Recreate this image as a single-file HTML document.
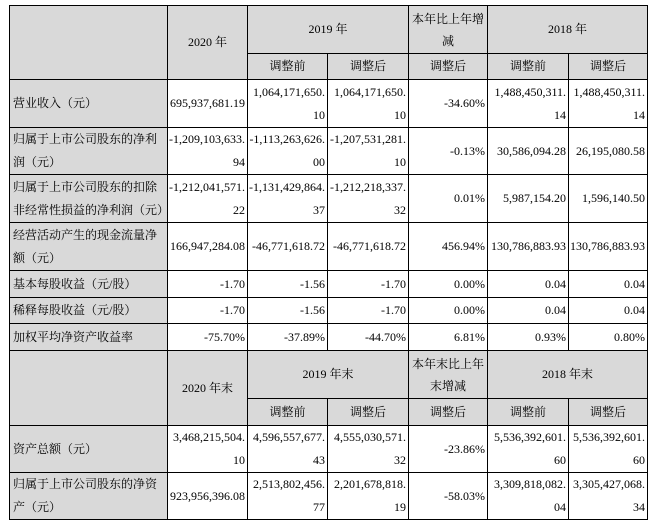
<!DOCTYPE html>
<html><head><meta charset="utf-8"><style>
body{margin:0;background:#fff;width:661px;height:530px;overflow:hidden;position:relative;font-family:"Liberation Serif","Noto Serif CJK SC",serif;font-size:12px;color:#000}
.c{position:absolute;box-sizing:border-box;border:1px solid #000;display:flex;align-items:center;justify-content:flex-end;text-align:right;padding:0 2px;line-height:23px;background:#fff}
.g{background:#d9d9d9}
.h{justify-content:center;text-align:center}
.l{justify-content:flex-start;text-align:left;padding-left:3px}
</style></head><body>
<!-- header 1 -->
<div class="c g" style="left:9px;top:5px;width:159px;height:75px"></div>
<div class="c g h" style="left:167px;top:5px;width:81px;height:75px">2020 年</div>
<div class="c g h" style="left:247px;top:5px;width:162px;height:49px">2019 年</div>
<div class="c g h" style="left:408px;top:5px;width:80px;height:49px;line-height:22px">本年比上年增<br>减</div>
<div class="c g h" style="left:487px;top:5px;width:161px;height:49px">2018 年</div>
<div class="c g h" style="left:247px;top:53px;width:81px;height:27px">调整前</div>
<div class="c g h" style="left:327px;top:53px;width:82px;height:27px">调整后</div>
<div class="c g h" style="left:408px;top:53px;width:80px;height:27px">调整后</div>
<div class="c g h" style="left:487px;top:53px;width:82px;height:27px">调整前</div>
<div class="c g h" style="left:568px;top:53px;width:80px;height:27px">调整后</div>
<!-- row1 -->
<div class="c g l" style="left:9px;top:79px;width:159px;height:49px">营业收入（元）</div>
<div class="c" style="left:167px;top:79px;width:81px;height:49px">695,937,681.19</div>
<div class="c" style="left:247px;top:79px;width:81px;height:49px">1,064,171,650.<br>10</div>
<div class="c" style="left:327px;top:79px;width:82px;height:49px">1,064,171,650.<br>10</div>
<div class="c" style="left:408px;top:79px;width:80px;height:49px">-34.60%</div>
<div class="c" style="left:487px;top:79px;width:82px;height:49px">1,488,450,311.<br>14</div>
<div class="c" style="left:568px;top:79px;width:80px;height:49px">1,488,450,311.<br>14</div>
<!-- row2 -->
<div class="c g l" style="left:9px;top:127px;width:159px;height:48px">归属于上市公司股东的净利<br>润（元）</div>
<div class="c" style="left:167px;top:127px;width:81px;height:48px">-1,209,103,633.<br>94</div>
<div class="c" style="left:247px;top:127px;width:81px;height:48px">-1,113,263,626.<br>00</div>
<div class="c" style="left:327px;top:127px;width:82px;height:48px">-1,207,531,281.<br>10</div>
<div class="c" style="left:408px;top:127px;width:80px;height:48px">-0.13%</div>
<div class="c" style="left:487px;top:127px;width:82px;height:48px">30,586,094.28</div>
<div class="c" style="left:568px;top:127px;width:80px;height:48px">26,195,080.58</div>
<!-- row3 -->
<div class="c g l" style="left:9px;top:174px;width:159px;height:49px">归属于上市公司股东的扣除<br>非经常性损益的净利润（元）</div>
<div class="c" style="left:167px;top:174px;width:81px;height:49px">-1,212,041,571.<br>22</div>
<div class="c" style="left:247px;top:174px;width:81px;height:49px">-1,131,429,864.<br>37</div>
<div class="c" style="left:327px;top:174px;width:82px;height:49px">-1,212,218,337.<br>32</div>
<div class="c" style="left:408px;top:174px;width:80px;height:49px">0.01%</div>
<div class="c" style="left:487px;top:174px;width:82px;height:49px">5,987,154.20</div>
<div class="c" style="left:568px;top:174px;width:80px;height:49px">1,596,140.50</div>
<!-- row4 -->
<div class="c g l" style="left:9px;top:222px;width:159px;height:49px">经营活动产生的现金流量净<br>额（元）</div>
<div class="c" style="left:167px;top:222px;width:81px;height:49px">166,947,284.08</div>
<div class="c" style="left:247px;top:222px;width:81px;height:49px">-46,771,618.72</div>
<div class="c" style="left:327px;top:222px;width:82px;height:49px">-46,771,618.72</div>
<div class="c" style="left:408px;top:222px;width:80px;height:49px">456.94%</div>
<div class="c" style="left:487px;top:222px;width:82px;height:49px">130,786,883.93</div>
<div class="c" style="left:568px;top:222px;width:80px;height:49px">130,786,883.93</div>
<!-- row5 -->
<div class="c g l" style="left:9px;top:270px;width:159px;height:28px">基本每股收益（元/股）</div>
<div class="c" style="left:167px;top:270px;width:81px;height:28px">-1.70</div>
<div class="c" style="left:247px;top:270px;width:81px;height:28px">-1.56</div>
<div class="c" style="left:327px;top:270px;width:82px;height:28px">-1.70</div>
<div class="c" style="left:408px;top:270px;width:80px;height:28px">0.00%</div>
<div class="c" style="left:487px;top:270px;width:82px;height:28px">0.04</div>
<div class="c" style="left:568px;top:270px;width:80px;height:28px">0.04</div>
<!-- row6 -->
<div class="c g l" style="left:9px;top:297px;width:159px;height:27px">稀释每股收益（元/股）</div>
<div class="c" style="left:167px;top:297px;width:81px;height:27px">-1.70</div>
<div class="c" style="left:247px;top:297px;width:81px;height:27px">-1.56</div>
<div class="c" style="left:327px;top:297px;width:82px;height:27px">-1.70</div>
<div class="c" style="left:408px;top:297px;width:80px;height:27px">0.00%</div>
<div class="c" style="left:487px;top:297px;width:82px;height:27px">0.04</div>
<div class="c" style="left:568px;top:297px;width:80px;height:27px">0.04</div>
<!-- row7 -->
<div class="c g l" style="left:9px;top:323px;width:159px;height:28px">加权平均净资产收益率</div>
<div class="c" style="left:167px;top:323px;width:81px;height:28px">-75.70%</div>
<div class="c" style="left:247px;top:323px;width:81px;height:28px">-37.89%</div>
<div class="c" style="left:327px;top:323px;width:82px;height:28px">-44.70%</div>
<div class="c" style="left:408px;top:323px;width:80px;height:28px">6.81%</div>
<div class="c" style="left:487px;top:323px;width:82px;height:28px">0.93%</div>
<div class="c" style="left:568px;top:323px;width:80px;height:28px">0.80%</div>
<!-- header 2 -->
<div class="c g" style="left:9px;top:350px;width:159px;height:76px"></div>
<div class="c g h" style="left:167px;top:350px;width:81px;height:76px">2020 年末</div>
<div class="c g h" style="left:247px;top:350px;width:162px;height:49px">2019 年末</div>
<div class="c g h" style="left:408px;top:350px;width:80px;height:49px;line-height:22px">本年末比上年<br>末增减</div>
<div class="c g h" style="left:487px;top:350px;width:161px;height:49px">2018 年末</div>
<div class="c g h" style="left:247px;top:398px;width:81px;height:28px">调整前</div>
<div class="c g h" style="left:327px;top:398px;width:82px;height:28px">调整后</div>
<div class="c g h" style="left:408px;top:398px;width:80px;height:28px">调整后</div>
<div class="c g h" style="left:487px;top:398px;width:82px;height:28px">调整前</div>
<div class="c g h" style="left:568px;top:398px;width:80px;height:28px">调整后</div>
<!-- row8 -->
<div class="c g l" style="left:9px;top:425px;width:159px;height:48px">资产总额（元）</div>
<div class="c" style="left:167px;top:425px;width:81px;height:48px">3,468,215,504.<br>10</div>
<div class="c" style="left:247px;top:425px;width:81px;height:48px">4,596,557,677.<br>43</div>
<div class="c" style="left:327px;top:425px;width:82px;height:48px">4,555,030,571.<br>32</div>
<div class="c" style="left:408px;top:425px;width:80px;height:48px">-23.86%</div>
<div class="c" style="left:487px;top:425px;width:82px;height:48px">5,536,392,601.<br>60</div>
<div class="c" style="left:568px;top:425px;width:80px;height:48px">5,536,392,601.<br>60</div>
<!-- row9 -->
<div class="c g l" style="left:9px;top:472px;width:159px;height:48px">归属于上市公司股东的净资<br>产（元）</div>
<div class="c" style="left:167px;top:472px;width:81px;height:48px">923,956,396.08</div>
<div class="c" style="left:247px;top:472px;width:81px;height:48px">2,513,802,456.<br>77</div>
<div class="c" style="left:327px;top:472px;width:82px;height:48px">2,201,678,818.<br>19</div>
<div class="c" style="left:408px;top:472px;width:80px;height:48px">-58.03%</div>
<div class="c" style="left:487px;top:472px;width:82px;height:48px">3,309,818,082.<br>04</div>
<div class="c" style="left:568px;top:472px;width:80px;height:48px">3,305,427,068.<br>34</div>
</body></html>
